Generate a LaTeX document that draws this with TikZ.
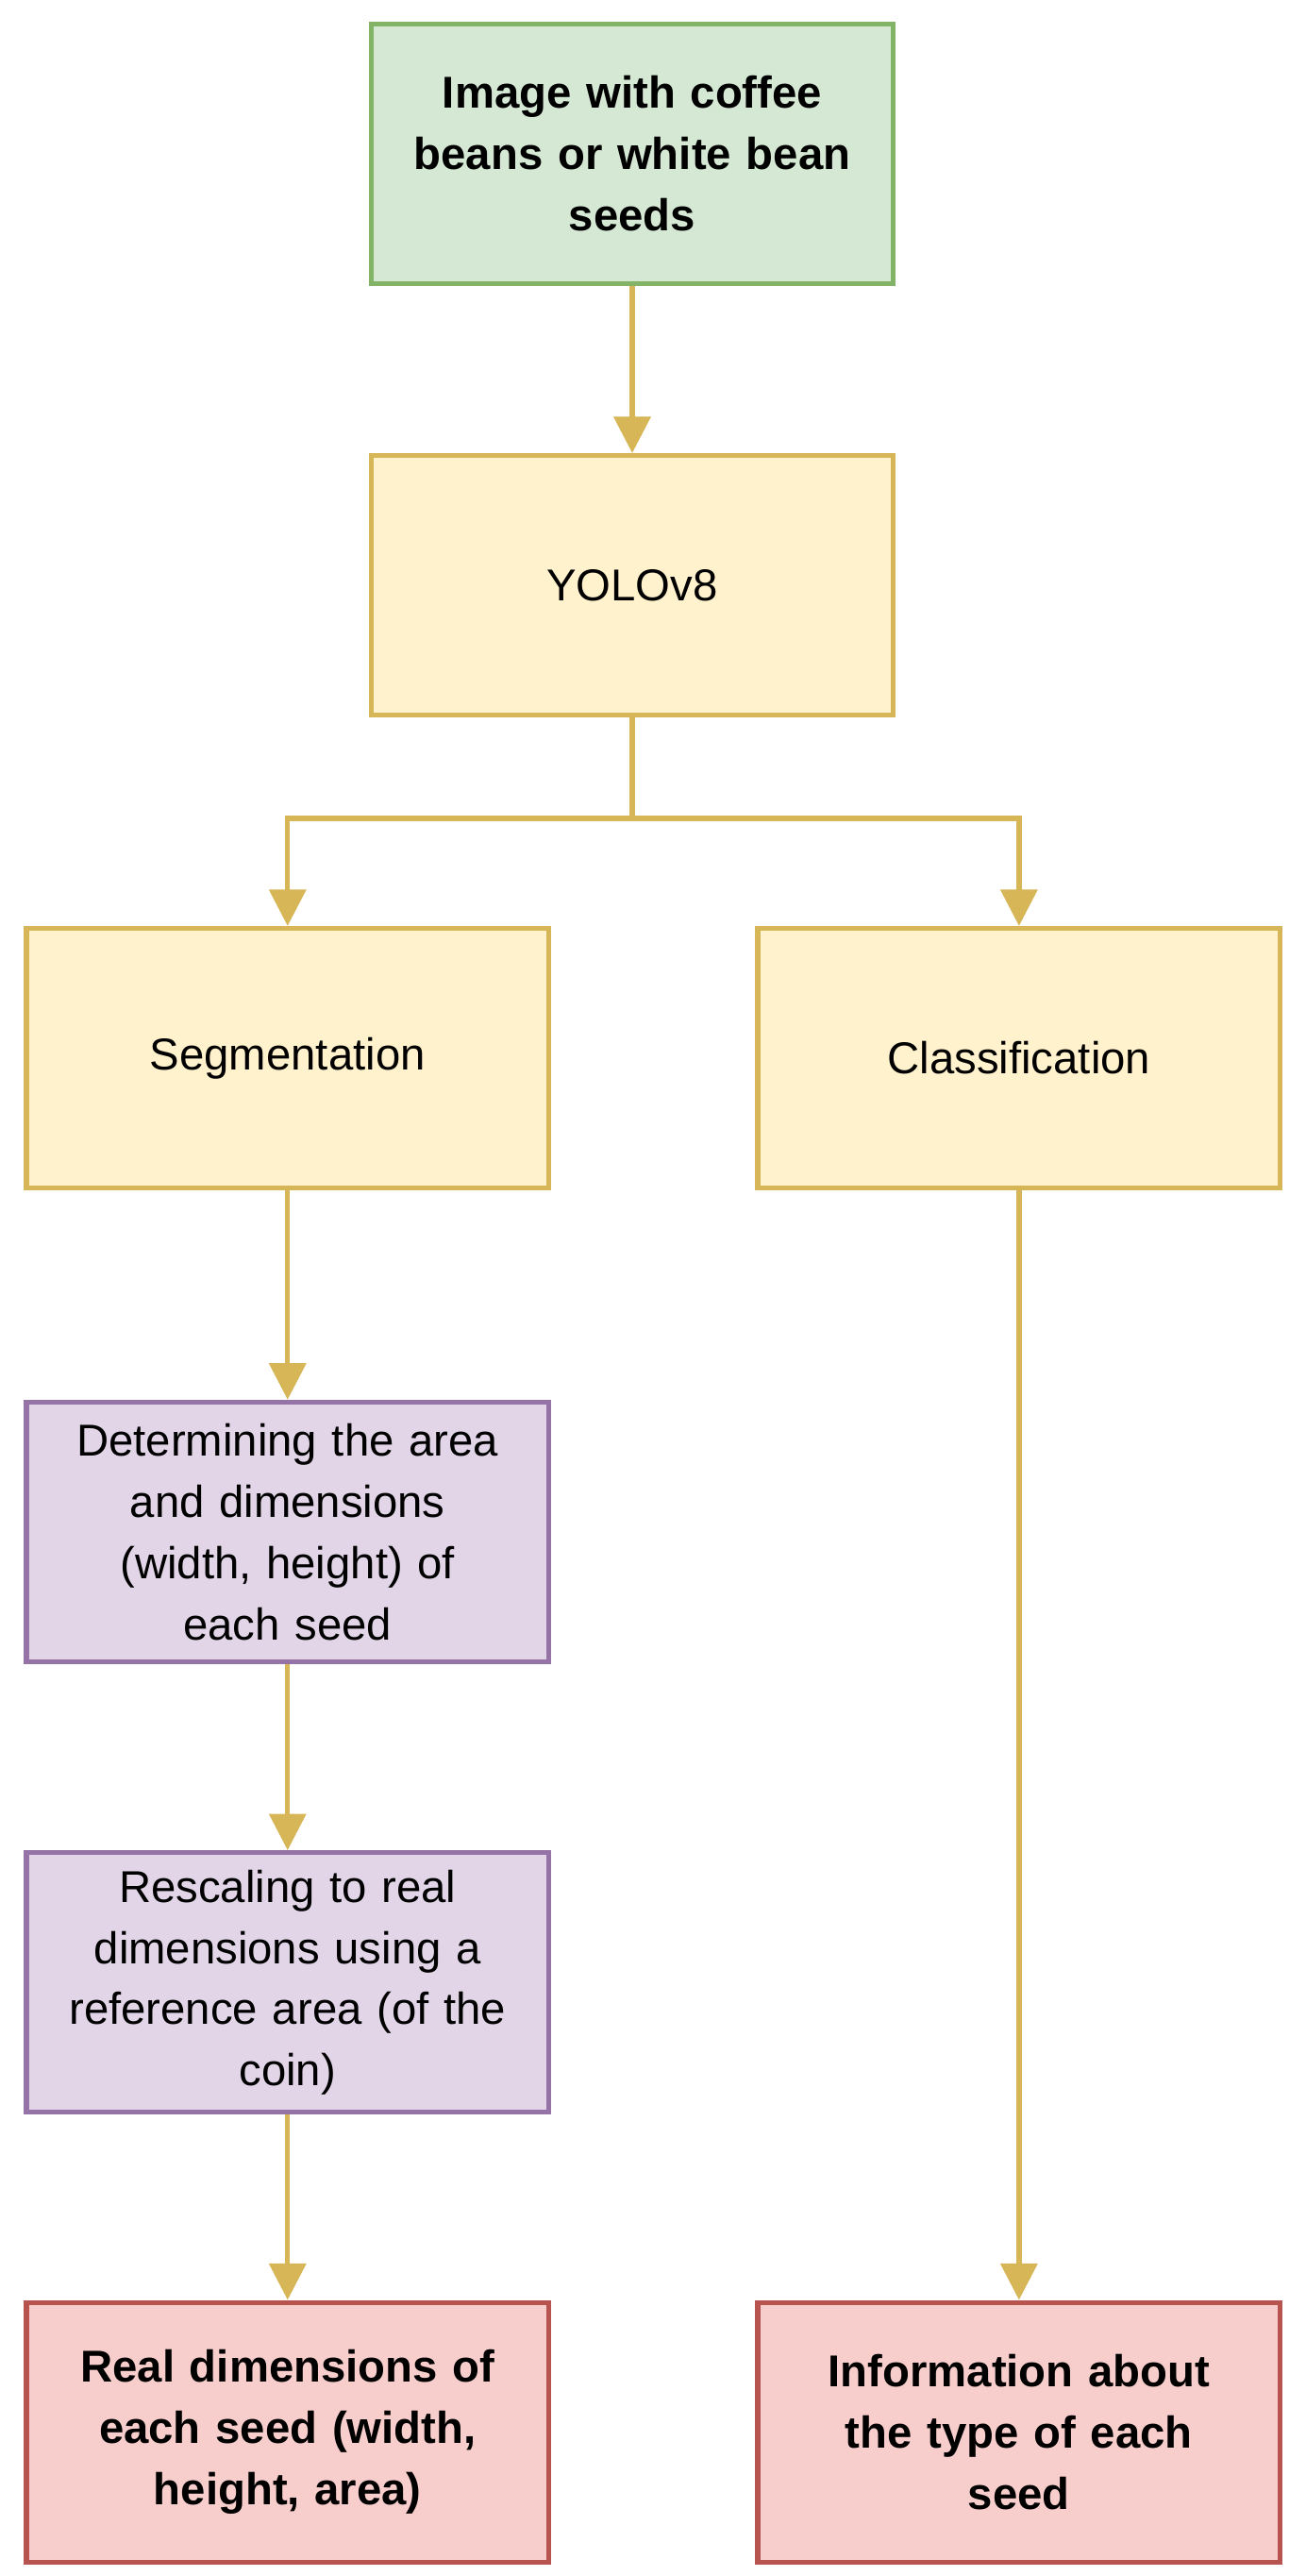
\documentclass[tikz,border=0pt]{standalone}
\usepackage{fontspec}
\setmainfont{Liberation Sans}
\usetikzlibrary{arrows.meta}
\definecolor{gf}{HTML}{D5E8D4}\definecolor{gs}{HTML}{82B366}
\definecolor{yf}{HTML}{FFF2CC}\definecolor{ys}{HTML}{D6B656}
\definecolor{pf}{HTML}{E1D5E7}\definecolor{ps}{HTML}{9673A6}
\definecolor{rf}{HTML}{F8CECC}\definecolor{rs}{HTML}{B85450}
\begin{document}
\begin{tikzpicture}[x=1pt,y=-1pt,
 box/.style={draw,line width=3pt,minimum width=316pt,minimum height=157pt,text width=300pt,align=center,font=\fontsize{27}{37}\selectfont,inner sep=0pt},
 gbox/.style={box,fill=gf,draw=gs,font=\fontsize{27}{37}\selectfont\bfseries},
 ybox/.style={box,fill=yf,draw=ys},
 pbox/.style={box,fill=pf,draw=ps},
 rbox/.style={box,fill=rf,draw=rs,font=\fontsize{27}{37}\selectfont\bfseries},
 arr/.style={draw=ys,line width=3pt,-{Triangle[length=22pt,width=22pt]}},
 ln/.style={draw=ys,line width=3pt}]
\useasboundingbox (0,0) rectangle (790,1558);
\node[gbox] (img) at (382.5,93) {Image with coffee\\beans or white bean\\seeds};
\node[ybox] (yolo) at (382.5,354) {YOLOv8};
\node[ybox] (seg) at (174,640) {Segmentation};
\node[ybox] (cls) at (616.5,640) {Classification};
\node[pbox] (det) at (174,926.5) {Determining the area\\and dimensions\\(width, height) of\\each seed};
\node[pbox] (res) at (174,1199) {Rescaling to real\\dimensions using a\\reference area (of the\\coin)};
\node[rbox] (real) at (174,1471) {Real dimensions of\\each seed (width,\\height, area)};
\node[rbox] (info) at (616.5,1471) {Information about\\the type of each\\seed};
\coordinate (j) at (382.5,495);
\draw[arr] (img) -- (yolo);
\draw[ln] (yolo) -- (j);
\draw[arr] (j) -| (seg);
\draw[arr] (j) -| (cls);
\draw[arr] (seg) -- (det);
\draw[arr] (det) -- (res);
\draw[arr] (res) -- (real);
\draw[arr] (cls) -- (info);
\end{tikzpicture}
\end{document}
